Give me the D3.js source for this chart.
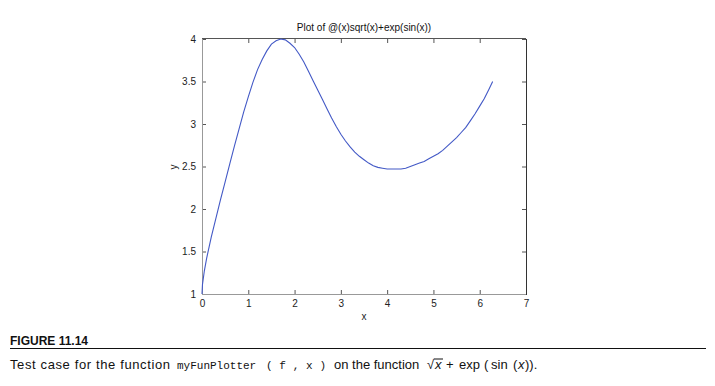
<!DOCTYPE html>
<html>
<head>
<meta charset="utf-8">
<script src="https://cdn.jsdelivr.net/npm/d3@7"></script>
<style>
  body { margin: 0; background: #fff; }
  svg text { font-family: "Liberation Sans", Arial, sans-serif; }
</style>
</head>
<body>
<script>
// values
var xs = [0, 0.01, 0.05, 0.1, 0.2, 0.3, 0.4, 0.5, 0.6, 0.7, 0.8, 0.9, 1.0, 1.1, 1.2, 1.3, 1.4, 1.5, 1.6, 1.7,
  1.8, 1.9, 2.0, 2.1, 2.2, 2.3, 2.4, 2.5, 2.6, 2.7, 2.8, 2.9, 3.0, 3.1, 3.2, 3.3, 3.4, 3.5, 3.6, 3.7,
  3.8, 3.9, 4.0, 4.1, 4.2, 4.3, 4.4, 4.5, 4.6, 4.7, 4.8, 4.9, 5.0, 5.1, 5.2, 5.3, 5.4, 5.5, 5.6, 5.7,
  5.8, 5.9, 6.0, 6.1, 6.2, 6.28];
var ys = [1.00, 1.11, 1.27, 1.42, 1.67, 1.89, 2.11, 2.32, 2.53, 2.74, 2.94, 3.14, 3.32, 3.49, 3.64, 3.76, 3.86, 3.94, 3.98, 4.00,
  3.99, 3.95, 3.90, 3.82, 3.73, 3.62, 3.51, 3.40, 3.29, 3.18, 3.07, 2.97, 2.88, 2.80, 2.73, 2.67, 2.62, 2.58, 2.54, 2.51,
  2.49, 2.48, 2.47, 2.47, 2.47, 2.47, 2.48, 2.50, 2.52, 2.54, 2.56, 2.59, 2.62, 2.65, 2.69, 2.74, 2.79, 2.84, 2.90, 2.96,
  3.04, 3.12, 3.21, 3.30, 3.41, 3.50];
var xTicks = [0, 1, 2, 3, 4, 5, 6, 7];
var yTicks = [1, 1.5, 2, 2.5, 3, 3.5, 4];

function draw() {
  var width = 715, height = 386;
  var pLeft = 202, pRight = 526, pTop = 39, pBottom = 294;

  var svg = d3.select("body").append("svg")
    .attr("width", width)
    .attr("height", height);

  var x = d3.scaleLinear().domain([0, 7]).range([pLeft, pRight]);
  var y = d3.scaleLinear().domain([1, 4]).range([pBottom, pTop]);

  // inward ticks on all four sides
  svg.append("g").attr("transform", "translate(0," + pBottom + ")")
    .call(d3.axisBottom(x).tickValues(xTicks).tickSizeInner(-4).tickSizeOuter(0).tickPadding(6).tickFormat(d3.format("d")));
  svg.append("g").attr("transform", "translate(0," + pTop + ")")
    .call(d3.axisTop(x).tickValues(xTicks).tickSizeInner(-4).tickSizeOuter(0).tickFormat(""));
  svg.append("g").attr("transform", "translate(" + pLeft + ",0)")
    .call(d3.axisLeft(y).tickValues(yTicks).tickSizeInner(-4).tickSizeOuter(0).tickPadding(6).tickFormat(d3.format("")));
  svg.append("g").attr("transform", "translate(" + pRight + ",0)")
    .call(d3.axisRight(y).tickValues(yTicks).tickSizeInner(-4).tickSizeOuter(0).tickFormat(""));

  svg.selectAll(".domain").remove();
  svg.selectAll(".tick line").attr("stroke", "#555");
  svg.selectAll(".tick text").attr("fill", "#222").style("font-size", "10px")
    .style("font-family", "'Liberation Sans', Arial, sans-serif");

  // box: left/bottom lighter, top/right darker
  svg.append("line").attr("x1", pLeft + 0.5).attr("x2", pLeft + 0.5).attr("y1", pTop).attr("y2", pBottom).attr("stroke", "#999");
  svg.append("line").attr("x1", pLeft).attr("x2", pRight).attr("y1", pBottom + 0.5).attr("y2", pBottom + 0.5).attr("stroke", "#999");
  svg.append("line").attr("x1", pLeft).attr("x2", pRight).attr("y1", pTop - 0.5).attr("y2", pTop - 0.5).attr("stroke", "#555");
  svg.append("line").attr("x1", pRight + 0.5).attr("x2", pRight + 0.5).attr("y1", pTop).attr("y2", pBottom + 1).attr("stroke", "#333");

  var line = d3.line()
    .x(function(d, i) { return x(xs[i]); })
    .y(function(d, i) { return y(ys[i]); });

  svg.append("path")
    .datum(xs)
    .attr("d", line)
    .attr("fill", "none")
    .attr("stroke", "#4359c6")
    .attr("stroke-width", 1.1);

  svg.append("text").attr("x", (pLeft + pRight) / 2).attr("y", 31)
    .attr("text-anchor", "middle").style("font-size", "10px").attr("fill", "#111")
    .text("Plot of @(x)sqrt(x)+exp(sin(x))");
  svg.append("text").attr("x", (pLeft + pRight) / 2).attr("y", 320)
    .attr("text-anchor", "middle").style("font-size", "10px").attr("fill", "#222")
    .text("x");
  svg.append("text").attr("transform", "translate(177,167) rotate(-90)")
    .attr("text-anchor", "middle").style("font-size", "10px").attr("fill", "#222")
    .text("y");

  // caption
  svg.append("text").attr("x", 10).attr("y", 345)
    .style("font-size", "12px").style("font-weight", "bold").attr("fill", "#111")
    .text("FIGURE 11.14");
  svg.append("line").attr("x1", 10).attr("x2", 706).attr("y1", 348.5).attr("y2", 348.5)
    .attr("stroke", "#111").attr("stroke-width", 1);

  var cy = 369;
  var mono = "'Liberation Mono', 'DejaVu Sans Mono', monospace";
  var cap = svg.append("g").attr("fill", "#111").style("font-size", "13px");
  cap.append("text").attr("x", 10).attr("y", cy)
    .attr("textLength", 160).attr("lengthAdjust", "spacing")
    .text("Test case for the function");
  cap.append("text").attr("x", 177).attr("y", cy)
    .style("font-family", mono).style("font-size", "11px")
    .text("myFunPlotter");
  cap.append("text").attr("x", 266).attr("y", cy)
    .style("font-family", mono).style("font-size", "11px")
    .attr("textLength", 60).attr("lengthAdjust", "spacing")
    .text("(f,x)");
  cap.append("text").attr("x", 334).attr("y", cy)
    .text("on the function");
  cap.append("text").attr("x", 427).attr("y", cy).text("\u221a");
  cap.append("line").attr("x1", 434).attr("x2", 443).attr("y1", cy - 10).attr("y2", cy - 10)
    .attr("stroke", "#111").attr("stroke-width", 1);
  cap.append("text").attr("x", 435).attr("y", cy).style("font-style", "italic").text("x");
  cap.append("text").attr("x", 446).attr("y", cy).text("+");
  cap.append("text").attr("x", 459).attr("y", cy).text("exp");
  cap.append("text").attr("x", 484).attr("y", cy).text("(");
  cap.append("text").attr("x", 491).attr("y", cy).text("sin");
  cap.append("text").attr("x", 513).attr("y", cy).text("(");
  cap.append("text").attr("x", 518).attr("y", cy).style("font-style", "italic").text("x");
  cap.append("text").attr("x", 525).attr("y", cy).text(")).");
}

draw();
</script>
</body>
</html>
